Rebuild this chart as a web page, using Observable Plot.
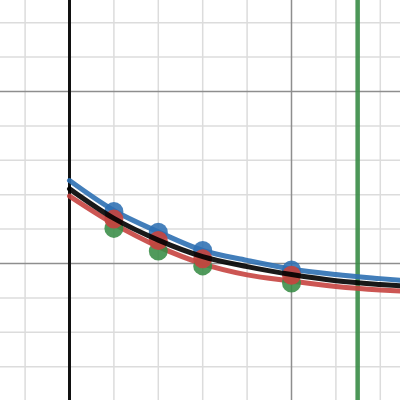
<!DOCTYPE html>
<html>
<head>
<meta charset="utf-8">
<script src="https://cdn.jsdelivr.net/npm/d3@7"></script>
<script src="https://cdn.jsdelivr.net/npm/@observablehq/plot@0.6"></script>
<style>
  html, body { margin: 0; padding: 0; background: #fff; overflow: hidden; }
  #chart svg { display: block; }
</style>
</head>
<body>
<div id="chart"></div>
<script>
// Grid ticks
const minorX = [-1, 1, 2, 3, 4, 6, 7];
const majorX = [5];
const axisX = [0];
const minorY = [2, 3, 4, 6, 7, 8, 9, 11, 12];
const majorY = [5, 10];

// Measured points
const pointX = [1, 2, 3, 5];
const blueY = [6.51, 5.91, 5.38, 4.81];
const redY = [6.29, 5.67, 5.14, 4.66];
const greenY = [6.02, 5.36, 4.93, 4.43];

// Curves
const curveX = [0, 1, 2, 3, 4, 5, 6, 7, 7.45];
const blueCurve = [7.41, 6.54, 5.92, 5.38, 5.09, 4.84, 4.68, 4.56, 4.51];
const blackCurve = [7.17, 6.31, 5.68, 5.20, 4.91, 4.68, 4.50, 4.39, 4.35];
const redCurve = [6.96, 6.15, 5.49, 4.99, 4.67, 4.49, 4.33, 4.23, 4.20];

// Vertical green line
const greenLineX = [6.49];

const pts = (ys) => pointX.map((x, i) => ({x, y: ys[i]}));
const crv = (ys) => curveX.map((x, i) => ({x, y: ys[i]}));

const chart = Plot.plot({
  width: 400,
  height: 400,
  margin: 0,
  x: {domain: [-1.554, 7.455], axis: null},
  y: {domain: [1.017, 12.645], axis: null},
  style: {background: "#fff"},
  marks: [
    Plot.ruleX(minorX, {stroke: "#dcdcdc", strokeWidth: 1.5}),
    Plot.ruleY(minorY, {stroke: "#dcdcdc", strokeWidth: 1.5}),
    Plot.ruleX(majorX, {stroke: "#8e8e8e", strokeWidth: 1.5}),
    Plot.ruleY(majorY, {stroke: "#8e8e8e", strokeWidth: 1.5}),
    Plot.ruleX(axisX, {stroke: "#111", strokeWidth: 3}),
    Plot.ruleX(greenLineX, {stroke: "#388c46", strokeWidth: 4.5, strokeOpacity: 0.9}),
    Plot.line(crv(blueCurve), {x: "x", y: "y", stroke: "#2d70b3", strokeWidth: 5, strokeOpacity: 0.9, curve: "monotone-x"}),
    Plot.line(crv(redCurve), {x: "x", y: "y", stroke: "#c74440", strokeWidth: 5, strokeOpacity: 0.9, curve: "monotone-x"}),
    Plot.dot(pts(blueY), {x: "x", y: "y", r: 9.5, fill: "#2d70b3", fillOpacity: 0.88, stroke: "none"}),
    Plot.dot(pts(greenY), {x: "x", y: "y", r: 9.5, fill: "#388c46", fillOpacity: 0.88, stroke: "none"}),
    Plot.dot(pts(redY), {x: "x", y: "y", r: 9.5, fill: "#c74440", fillOpacity: 0.92, stroke: "none"}),
    Plot.line(crv(blackCurve), {x: "x", y: "y", stroke: "#000", strokeWidth: 5, strokeOpacity: 0.9, curve: "monotone-x"})
  ]
});
document.getElementById("chart").appendChild(chart);
</script>
</body>
</html>
